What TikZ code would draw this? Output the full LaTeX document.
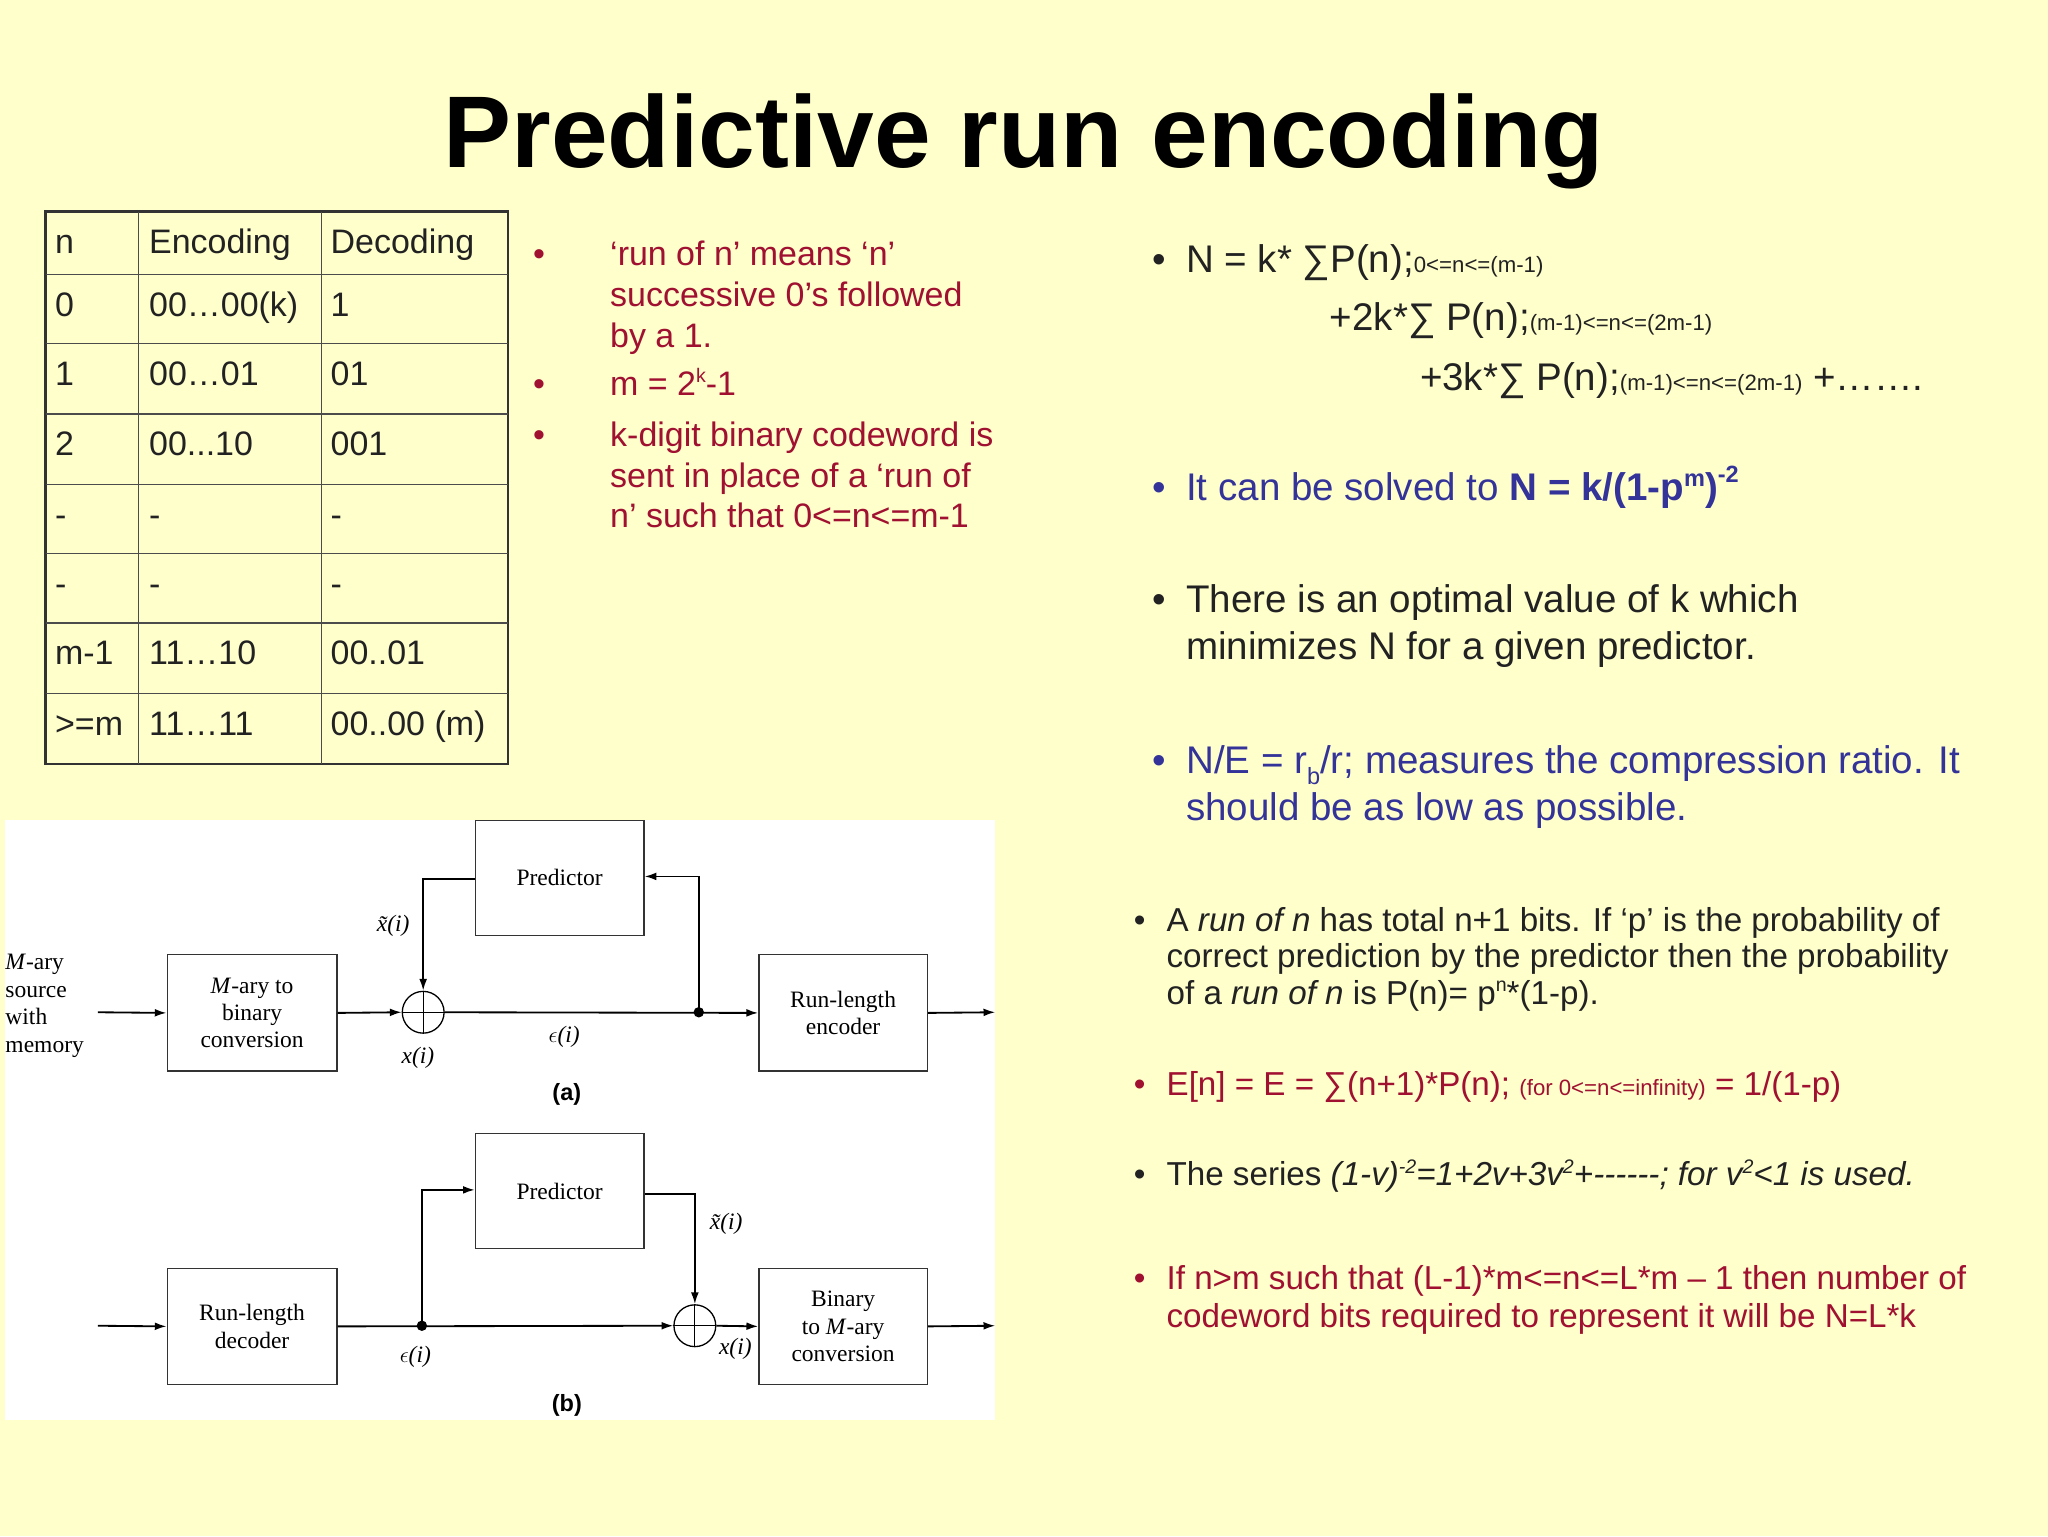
\documentclass[tikz,border=0pt]{standalone}
\usepackage{fontspec}
\setmainfont{Liberation Sans}
\newfontfamily\serif{Liberation Serif}
\usetikzlibrary{arrows.meta}
\definecolor{bg}{HTML}{FFFFCC}
\definecolor{rd}{HTML}{A01030}
\definecolor{bl}{HTML}{333399}
\definecolor{tx}{HTML}{222222}
\tikzset{
  t/.style={anchor=base west,inner sep=0pt,text=tx,font=\fontsize{29.5}{35}\selectfont},
  ts/.style={anchor=base west,inner sep=0pt,text=tx,font=\fontsize{25.4}{29}\selectfont},
  tr/.style={anchor=base west,inner sep=0pt,text=rd,font=\fontsize{26}{31}\selectfont},
  cell/.style={anchor=base west,inner sep=0pt,text=tx,font=\fontsize{26}{31}\selectfont},
  blk/.style={draw=black!80,line width=1pt,fill=white,align=center,font=\serif\fontsize{18}{21}\selectfont,inner sep=0pt},
  ar/.style={line width=1.4pt,-{Latex[length=9pt,width=6pt]}},
  lab/.style={font=\serif\itshape\fontsize{18}{21}\selectfont,inner sep=1pt},
}
\newcommand{\sbs}[1]{{\fontsize{17}{17}\selectfont #1}}
\newcommand{\sps}[1]{\raisebox{0.38em}{\fontsize{15}{15}\selectfont #1}}
\newcommand{\tdots}{...}
\begin{document}
\begin{tikzpicture}[x=1pt,y=-1pt]
\fill[bg] (0,0) rectangle (1568,1176);
\useasboundingbox (0,0) rectangle (1568,1176);
\node[font=\bfseries\fontsize{78}{90}\selectfont,anchor=base] (title) at (784,128) {Predictive run encoding};
% table
\draw[line width=2pt,black!80] (35,162) rectangle (389,585);
\foreach \yy in {210,263,317,371,424,477,531} \draw[line width=1pt,black!70] (35,\yy) -- (389,\yy);
\foreach \xx in {106,246} \draw[line width=1pt,black!70] (\xx,162) -- (\xx,585);
\node[cell] (h1) at (42,194) {n};
\node[cell] (h2) at (114,194) {Encoding};
\node[cell] (h3) at (253,194) {Decoding};
\node[cell] (ra1) at (42,242) {0};   \node[cell] (rb1) at (114,242) {00\ldots00(k)}; \node[cell] (rc1) at (253,242) {1};
\node[cell] (ra2) at (42,295) {1};   \node[cell] (rb2) at (114,295) {00\ldots01};    \node[cell] (rc2) at (253,295) {01};
\node[cell] (ra3) at (42,349) {2};   \node[cell] (rb3) at (114,349) {00\tdots10};    \node[cell] (rc3) at (253,349) {001};
\node[cell] (ra4) at (42,403) {-};   \node[cell] (rb4) at (114,403) {-};             \node[cell] (rc4) at (253,403) {-};
\node[cell] (ra5) at (42,456) {-};   \node[cell] (rb5) at (114,456) {-};             \node[cell] (rc5) at (253,456) {-};
\node[cell] (ra6) at (42,509) {m-1}; \node[cell] (rb6) at (114,509) {11\ldots10};    \node[cell] (rc6) at (253,509) {00..01};
\node[cell] (ra7) at (42,563) {>=m}; \node[cell] (rb7) at (114,563) {11\ldots11};    \node[cell] (rc7) at (253,563) {00..00 (m)};
% middle red bullets
\foreach \yy in {203,303,342} \node[tr] at (408,\yy) {•};
\node[tr] (m1) at (467,203) {‘run of n’ means ‘n’};
\node[tr] (m2) at (467,235) {successive 0’s followed};
\node[tr] (m3) at (467,266) {by a 1.};
\node[tr] (m4) at (467,303) {m = 2\sps{k}-1};
\node[tr] (m5) at (467,342) {k-digit binary codeword is};
\node[tr] (m6) at (467,373) {sent in place of a ‘run of};
\node[tr] (m7) at (467,404) {n’ such that 0<=n<=m-1};
% right column
\node[t] (b1) at (882,209) {•};
\node[t] (r1) at (908,209) {N = k* ∑P(n);\sbs{0<=n<=(m-1)}};
\node[t] (r2) at (1018,253) {+2k*∑ P(n);\sbs{(m-1)<=n<=(2m-1)}};
\node[t] (r3) at (1087,299) {+3k*∑ P(n);\sbs{(m-1)<=n<=(2m-1)} +\ldots\ldots.};
\node[t,text=bl] at (882,383) {•};
\node[t,text=bl] (r4) at (908,383) {It can be solved to \textbf{N = k/(1-p\raisebox{0.35em}{\fontsize{18}{18}\selectfont m})\raisebox{0.45em}{\fontsize{18}{18}\selectfont -2}}};
\node[t] at (882,469) {•};
\node[t] (r5) at (908,469) {There is an optimal value of k which};
\node[t] (r6) at (908,505) {minimizes N for a given predictor.};
\node[t,text=bl] at (882,592) {•};
\node[t,text=bl] (r7) at (908,592) {N/E = r\raisebox{-0.3em}{\fontsize{18}{18}\selectfont b}/r; measures the compression ratio. It};
\node[t,text=bl] (r8) at (908,628) {should be as low as possible.};
\node[ts] at (868,713) {•};
\node[ts] (s1) at (893,713) {A \textit{run of n} has total n+1 bits. If ‘p’ is the probability of};
\node[ts] (s2) at (893,741) {correct prediction by the predictor then the probability};
\node[ts] (s3) at (893,769) {of a \textit{run of n} is P(n)= p\sps{n}*(1-p).};
\node[ts,text=rd] at (868,839) {•};
\node[ts,text=rd] (s4) at (893,839) {E[n] = E = ∑(n+1)*P(n); {\fontsize{17}{17}\selectfont (for 0<=n<=infinity)} = 1/(1-p)};
\node[ts] at (868,908) {•};
\node[ts] (s5) at (893,908) {The series \textit{(1-v)\sps{-2}=1+2v+3v\sps{2}+{-}{-}{-}{-}{-}{-}; for v\sps{2}<1 is used.}};
\node[ts,text=rd] at (868,987) {•};
\node[ts,text=rd] (s6) at (893,987) {If n>m such that (L-1)*m<=n<=L*m – 1 then number of};
\node[ts,text=rd] (s7) at (893,1016) {codeword bits required to represent it will be N=L*k};
% diagram
\fill[white] (4,628) rectangle (762,1087);
% (a)
\node[blk,minimum width=129pt,minimum height=88pt] (pa) at (428.5,672) {Predictor};
\node[blk,minimum width=130pt,minimum height=89pt] (ma) at (193,775.5) {\textit{M}-ary to\\binary\\conversion};
\node[blk,minimum width=129pt,minimum height=89pt] (ea) at (645.5,775.5) {Run-length\\encoder};
\node[draw,circle,line width=1pt,minimum size=32pt,inner sep=0pt] (ca) at (324,775) {};
\draw[line width=0.8pt] (ca.north) -- (ca.south) (ca.west) -- (ca.east);
\node[align=left,anchor=west,font=\serif\fontsize{18}{21}\selectfont,inner sep=0pt] (src) at (4,770) {\textit{M}-ary\\source\\with\\memory};
\coordinate (ina) at (75,775);
\coordinate (outa) at (762,775);
\fill (535,775) circle (4pt) coordinate (ja);
\draw[ar] (ina) -- (ma.west);
\draw[ar] (ma.east) -- (ca.west);
\draw[ar] (ca.east) -- (ea.west);
\draw[ar] (ea.east) -- (outa);
\draw[ar] (pa.west |- 0,673) -| (ca.north);
\draw[ar] (ja) |- (pa.east |- 0,671);
\node[lab] at (301,709) {\~{x}(i)};
\node[lab] at (320,810) {x(i)};
\node[lab] at (432,794) {$\epsilon$(i)};
\node[font=\bfseries\fontsize{18}{21}\selectfont] (la) at (434,838) {(a)};
% (b)
\node[blk,minimum width=129pt,minimum height=88pt] (pb) at (428.5,912) {Predictor};
\node[blk,minimum width=130pt,minimum height=89pt] (db) at (193,1015.5) {Run-length\\decoder};
\node[blk,minimum width=129pt,minimum height=89pt] (bb) at (645.5,1015.5) {Binary\\to \textit{M}-ary\\conversion};
\node[draw,circle,line width=1pt,minimum size=32pt,inner sep=0pt] (cb) at (532,1015) {};
\draw[line width=0.8pt] (cb.north) -- (cb.south) (cb.west) -- (cb.east);
\coordinate (inb) at (75,1015);
\coordinate (outb) at (762,1015);
\fill (323,1015) circle (4pt) coordinate (jb);
\draw[ar] (inb) -- (db.west);
\draw[ar] (db.east) -- (cb.west);
\draw[ar] (cb.east) -- (bb.west);
\draw[ar] (bb.east) -- (outb);
\draw[ar] (jb) |- (pb.west |- 0,911);
\draw[ar] (pb.east |- 0,914) -| (cb.north);
\node[lab] at (556,937) {\~{x}(i)};
\node[lab] at (563,1033) {x(i)};
\node[lab] at (318,1039) {$\epsilon$(i)};
\node[font=\bfseries\fontsize{18}{21}\selectfont] (lb) at (434,1076) {(b)};
\end{tikzpicture}
\end{document}
